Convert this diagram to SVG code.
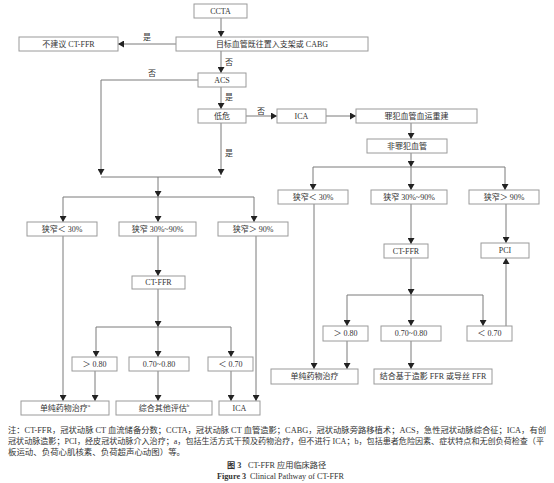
<svg xmlns="http://www.w3.org/2000/svg" width="554" height="483" viewBox="0 0 554 483">
<defs>
<marker id="ah" markerUnits="userSpaceOnUse" markerWidth="6" markerHeight="7" refX="6" refY="3.5" orient="auto">
<path d="M0,0 L6,3.5 L0,7 z" fill="#222"/>
</marker>
<style>
.b{fill:#fff;stroke:#9a9a9a;stroke-width:1}
.t{font-family:"Liberation Serif","Noto Sans CJK SC",serif;font-size:8px;fill:#333;text-anchor:middle;dominant-baseline:central}
.l{font-family:"Liberation Serif","Noto Sans CJK SC",serif;font-size:8px;fill:#333;text-anchor:middle;dominant-baseline:central}
.c{fill:none;stroke:#7a7a7a;stroke-width:1}
.a{fill:none;stroke:#7a7a7a;stroke-width:1;marker-end:url(#ah)}
.n{font-family:"Liberation Serif","Noto Sans CJK SC",serif;font-size:8.2px;fill:#333}
</style>
</defs>
<rect width="554" height="483" fill="#fff"/>
<g id="connectors">
<path class="a" d="M221,18 V37"/>
<path class="a" d="M176,44 H118"/>
<path class="a" d="M221,51 V73"/>
<path class="a" d="M198,80 H101 V175"/>
<path class="a" d="M221,87 V109"/>
<path class="a" d="M246,116 H277"/>
<path class="a" d="M326,116 H356"/>
<path class="a" d="M221,123 V175"/>
<path class="c" d="M101,177 H221"/>
<path class="a" d="M158,177 V197"/>
<path class="c" d="M63,197 H254"/>
<path class="a" d="M63,197 V222"/>
<path class="a" d="M158,197 V222"/>
<path class="a" d="M254,197 V222"/>
<path class="a" d="M158,236 V276"/>
<path class="a" d="M158,289 V327"/>
<path class="c" d="M96,327 H231"/>
<path class="a" d="M96,327 V357"/>
<path class="a" d="M158,327 V357"/>
<path class="a" d="M231,327 V357"/>
<path class="a" d="M63,236 V401"/>
<path class="a" d="M95,371 V401"/>
<path class="a" d="M158,371 V401"/>
<path class="a" d="M231,371 V401"/>
<path class="a" d="M256,236 V401"/>
<path class="a" d="M411,123 V139"/>
<path class="a" d="M411,153 V167"/>
<path class="c" d="M313,167 H505"/>
<path class="a" d="M313,167 V190"/>
<path class="a" d="M411,167 V190"/>
<path class="a" d="M505,167 V190"/>
<path class="a" d="M411,204 V244"/>
<path class="a" d="M506,204 V243"/>
<path class="a" d="M411,258 V295"/>
<path class="c" d="M347,295 H483"/>
<path class="a" d="M347,295 V326"/>
<path class="a" d="M411,295 V326"/>
<path class="a" d="M483,295 V326"/>
<path class="a" d="M506,326 V258"/>
<path class="a" d="M314,204 V369"/>
<path class="a" d="M347,341 V369"/>
<path class="a" d="M411,341 V369"/>
</g>
<g id="labels">
<text class="l" x="147" y="37">是</text>
<text class="l" x="229" y="62">否</text>
<text class="l" x="152" y="73">否</text>
<text class="l" x="229" y="97">是</text>
<text class="l" x="261" y="111">否</text>
<text class="l" x="229" y="153">是</text>
</g>
<g id="n-ccta"><rect class="b" x="194" y="4" width="53" height="14"/><text class="t" x="220.5" y="11">CCTA</text></g>
<g id="n-target"><rect class="b" x="176" y="37" width="192" height="14"/><text class="t" x="272" y="44">目标血管既往置入支架或 CABG</text></g>
<g id="n-nofr"><rect class="b" x="19" y="37" width="99" height="14"/><text class="t" x="68.5" y="44">不建议 CT-FFR</text></g>
<g id="n-acs"><rect class="b" x="198" y="73" width="48" height="14"/><text class="t" x="222" y="80">ACS</text></g>
<g id="n-low"><rect class="b" x="198" y="109" width="48" height="14"/><text class="t" x="222" y="116">低危</text></g>
<g id="n-ica1"><rect class="b" x="277" y="109" width="49" height="14"/><text class="t" x="301.5" y="116">ICA</text></g>
<g id="n-culprit"><rect class="b" x="356" y="109" width="121" height="14"/><text class="t" x="416.5" y="116">罪犯血管血运重建</text></g>
<g id="n-nonculprit"><rect class="b" x="367" y="139" width="80" height="14"/><text class="t" x="407" y="146">非罪犯血管</text></g>
<g id="n-s30a"><rect class="b" x="27" y="222" width="70" height="14"/><text class="t" x="62" y="229">狭窄＜ 30%</text></g>
<g id="n-s3090a"><rect class="b" x="119" y="222" width="77" height="14"/><text class="t" x="157.5" y="229">狭窄 30%~90%</text></g>
<g id="n-s90a"><rect class="b" x="218" y="222" width="70" height="14"/><text class="t" x="253" y="229">狭窄＞ 90%</text></g>
<g id="n-ctffr1"><rect class="b" x="132" y="276" width="53" height="13"/><text class="t" x="158.5" y="282.5">CT-FFR</text></g>
<g id="n-g080a"><rect class="b" x="72" y="357" width="45" height="14"/><text class="t" x="94.5" y="364">＞ 0.80</text></g>
<g id="n-m070a"><rect class="b" x="129" y="357" width="60" height="14"/><text class="t" x="159" y="364">0.70~0.80</text></g>
<g id="n-l070a"><rect class="b" x="208" y="357" width="45" height="14"/><text class="t" x="230.5" y="364">＜ 0.70</text></g>
<g id="n-drug1"><rect class="b" x="21" y="401" width="88" height="14"/><text class="t" x="65" y="408">单纯药物治疗<tspan font-size="5" dy="-3">a</tspan></text></g>
<g id="n-other"><rect class="b" x="116" y="401" width="96" height="14"/><text class="t" x="164" y="408">综合其他评估<tspan font-size="5" dy="-3">b</tspan></text></g>
<g id="n-ica2"><rect class="b" x="219" y="401" width="41" height="14"/><text class="t" x="239.5" y="408">ICA</text></g>
<g id="n-s30b"><rect class="b" x="278" y="190" width="70" height="14"/><text class="t" x="313" y="197">狭窄＜ 30%</text></g>
<g id="n-s3090b"><rect class="b" x="371" y="190" width="76" height="14"/><text class="t" x="409" y="197">狭窄 30%~90%</text></g>
<g id="n-s90b"><rect class="b" x="469" y="190" width="70" height="14"/><text class="t" x="504" y="197">狭窄＞ 90%</text></g>
<g id="n-ctffr2"><rect class="b" x="384" y="244" width="44" height="14"/><text class="t" x="406" y="251">CT-FFR</text></g>
<g id="n-pci"><rect class="b" x="481" y="243" width="48" height="15"/><text class="t" x="505" y="250.5">PCI</text></g>
<g id="n-g080b"><rect class="b" x="323" y="326" width="45" height="15"/><text class="t" x="345.5" y="333.5">＞ 0.80</text></g>
<g id="n-m070b"><rect class="b" x="381" y="326" width="60" height="15"/><text class="t" x="411" y="333.5">0.70~0.80</text></g>
<g id="n-l070b"><rect class="b" x="467" y="326" width="45" height="15"/><text class="t" x="489.5" y="333.5">＜ 0.70</text></g>
<g id="n-drug2"><rect class="b" x="271" y="369" width="87" height="15"/><text class="t" x="314.5" y="376.5">单纯药物治疗</text></g>
<g id="n-ffr"><rect class="b" x="374" y="369" width="118" height="15"/><text class="t" x="433" y="376.5">结合基于造影 FFR 或导丝 FFR</text></g>
<g id="notes">
<text class="n" x="8" y="433" textLength="538" lengthAdjust="spacingAndGlyphs">注：CT-FFR，冠状动脉 CT 血流储备分数；CCTA，冠状动脉 CT 血管造影；CABG，冠状动脉旁路移植术；ACS，急性冠状动脉综合征；ICA，有创</text>
<text class="n" x="8" y="444" font-size="7.6" textLength="536" lengthAdjust="spacingAndGlyphs">冠状动脉造影；PCI，经皮冠状动脉介入治疗；a，包括生活方式干预及药物治疗，但不进行 ICA；b，包括患者危险因素、症状特点和无创负荷检查（平</text>
<text class="n" x="8" y="455" textLength="177" lengthAdjust="spacingAndGlyphs">板运动、负荷心肌核素、负荷超声心动图）等。</text>
<text class="n" x="227" y="468" font-size="8.5" font-weight="bold">图 3</text>
<text class="n" x="248" y="468" font-size="8.5">CT-FFR 应用临床路径</text>
<text class="n" x="217" y="479" font-size="6.5" font-weight="bold">Figure 3</text>
<text class="n" x="250" y="479" font-size="6.5">Clinical Pathway of CT-FFR</text>
</g>
</svg>
